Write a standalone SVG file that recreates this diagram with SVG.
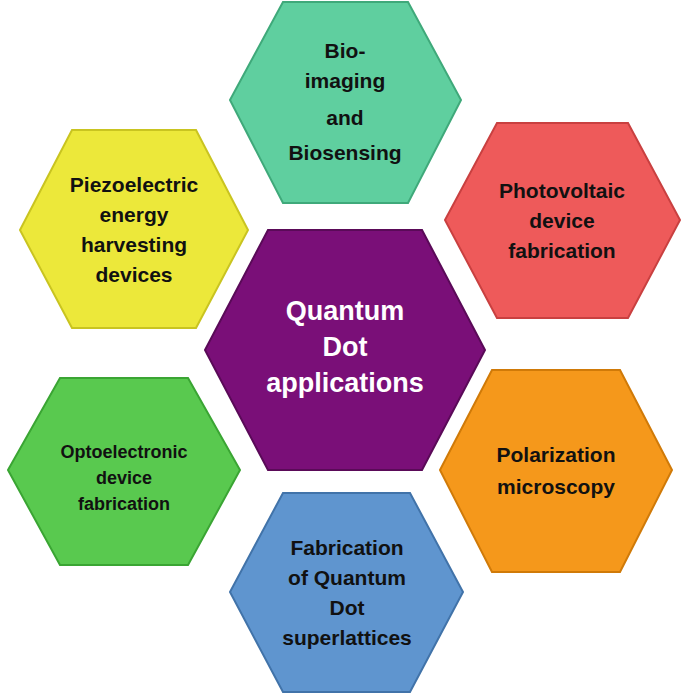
<svg xmlns="http://www.w3.org/2000/svg" width="685" height="700" viewBox="0 0 685 700">
<defs>
<style>
.h{stroke-width:2}
.t{font-family:"Liberation Sans",Arial,sans-serif;font-weight:bold;font-size:21px;fill:#111;text-anchor:middle}
.c{font-family:"Liberation Sans",Arial,sans-serif;font-weight:bold;font-size:27px;fill:#fff;text-anchor:middle}
</style>
</defs>
<rect width="685" height="700" fill="#fff"/>
<g id="center"><polygon class="h" points="205,350 268,230 422,230 485,350 422,470 268,470" fill="#7a0f78" stroke="#5a0a58"/>
<text class="c" x="345" y="320">Quantum</text><text class="c" x="345" y="356">Dot</text><text class="c" x="345" y="392">applications</text></g>
<g id="bio"><polygon class="h" points="230,100 283,2 408,2 461,100 408,203 283,203" fill="#5fcf9f" stroke="#3fa97a"/>
<text class="t" x="345" y="58">Bio-</text><text class="t" x="345" y="88">imaging</text><text class="t" x="345" y="125">and</text><text class="t" x="345" y="160">Biosensing</text></g>
<g id="photo"><polygon class="h" points="445,220 497,123 628,123 680,220 628,318 497,318" fill="#ee5a5a" stroke="#c94040"/>
<text class="t" x="562" y="198">Photovoltaic</text><text class="t" x="562" y="228">device</text><text class="t" x="562" y="258">fabrication</text></g>
<g id="polar"><polygon class="h" points="440,470 492,370 620,370 672,470 620,572 492,572" fill="#f5981b" stroke="#d07a08"/>
<text class="t" x="556" y="462">Polarization</text><text class="t" x="556" y="494">microscopy</text></g>
<g id="fab"><polygon class="h" points="230,592 283,493 410,493 463,592 410,692 283,692" fill="#5f95cf" stroke="#4173a9"/>
<text class="t" x="347" y="555">Fabrication</text><text class="t" x="347" y="585">of Quantum</text><text class="t" x="347" y="615">Dot</text><text class="t" x="347" y="645">superlattices</text></g>
<g id="opto"><polygon class="h" points="8,470 60,378 188,378 240,470 188,565 60,565" fill="#59c94f" stroke="#3aa533"/>
<text class="t" x="124" y="458" style="font-size:18px">Optoelectronic</text><text class="t" x="124" y="484" style="font-size:18px">device</text><text class="t" x="124" y="510" style="font-size:18px">fabrication</text></g>
<g id="piezo"><polygon class="h" points="20,230 72,130 196,130 248,230 196,328 72,328" fill="#ece83a" stroke="#c9c420"/>
<text class="t" x="134" y="192">Piezoelectric</text><text class="t" x="134" y="222">energy</text><text class="t" x="134" y="252">harvesting</text><text class="t" x="134" y="282">devices</text></g>
<g id="connectors"/>
</svg>
